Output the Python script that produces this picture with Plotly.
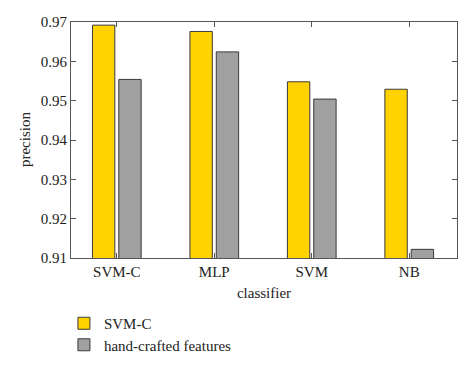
import plotly.graph_objects as go

categories = ["SVM-C", "MLP", "SVM", "NB"]
svmc_values = [0.9692, 0.9676, 0.9548, 0.9529]
handcrafted_values = [0.9554, 0.9624, 0.9504, 0.9122]
y_ticks = [0.91, 0.92, 0.93, 0.94, 0.95, 0.96, 0.97]

FONT = "Liberation Serif"
FS = 15
fig = go.Figure()
fig.add_trace(go.Bar(x=categories, y=svmc_values, name="SVM-C", legend="legend",
                     marker=dict(color="#FFD200", line=dict(color="#3a3a3a", width=1))))
fig.add_trace(go.Bar(x=categories, y=handcrafted_values, name="hand-crafted features",
                     legend="legend2",
                     marker=dict(color="#A0A0A0", line=dict(color="#3a3a3a", width=1))))

leg_common = dict(xref="container", yref="container", x=0.118, xanchor="left",
                  yanchor="middle", bgcolor="rgba(0,0,0,0)",
                  font=dict(family=FONT, size=FS, color="#222222"), itemwidth=30)

fig.update_layout(
    width=474, height=367,
    margin=dict(l=63, r=25, t=14, b=117, autoexpand=False),
    paper_bgcolor="white", plot_bgcolor="white",
    barmode="group", bargap=0.46, bargroupgap=0.15,
    font=dict(family=FONT, size=FS, color="#222222"),
    showlegend=True,
    legend=dict(y=0.1403, **leg_common),
    legend2=dict(y=0.0817, **leg_common),
    annotations=[dict(text="precision", xref="paper", yref="paper", x=-0.119, y=0.5,
                      xanchor="center", yanchor="middle", textangle=-90, showarrow=False,
                      font=dict(family=FONT, size=FS, color="#222222"))],
)
fig.update_xaxes(
    range=[-0.47, 3.49], showline=True, mirror="ticks", linecolor="#555555", linewidth=1,
    ticks="inside", ticklen=5, tickcolor="#555555", showgrid=False,
    title=dict(text="classifier", standoff=8, font=dict(family=FONT, size=FS)),
    tickfont=dict(family=FONT, size=FS),
)
fig.update_yaxes(
    range=[0.91, 0.97], tickvals=y_ticks, tickformat=".2f",
    showline=True, mirror="ticks", linecolor="#555555", linewidth=1,
    ticks="inside", ticklen=5, tickcolor="#555555", showgrid=False, zeroline=False,
    tickfont=dict(family=FONT, size=FS),
)
fig.write_html("out.html")
